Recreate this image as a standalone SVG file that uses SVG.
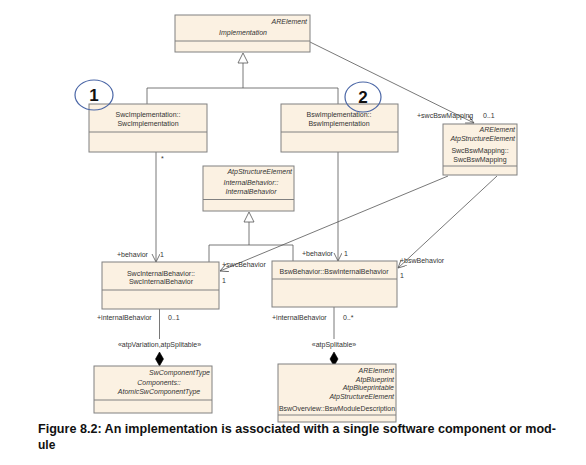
<svg xmlns="http://www.w3.org/2000/svg" width="586" height="465" viewBox="0 0 586 465">
<style>
.box{fill:#FBF1E2;stroke:#808080;stroke-width:1}
.dv{stroke:#808080;stroke-width:1}
.t{font-family:"Liberation Sans",Arial,sans-serif;font-size:7px;fill:#333}
.i{font-style:italic}
.c{text-anchor:middle}
.e{text-anchor:end}
.ln{stroke:#555;stroke-width:0.8;fill:none}
.tri{fill:#fff;stroke:#555;stroke-width:0.8}
.dia{fill:#000;stroke:#000;stroke-width:0.6}
.circ{fill:none;stroke:#4A66A6;stroke-width:1.2}
.num{font-family:"Liberation Sans",Arial,sans-serif;font-size:17px;font-weight:bold;fill:#111;text-anchor:middle}
.cap{font-family:"Liberation Sans",Arial,sans-serif;font-size:12px;font-weight:bold;fill:#111}
</style>
<defs>
<marker id="open" markerWidth="10" markerHeight="10" refX="8" refY="4" orient="auto" markerUnits="userSpaceOnUse">
<path d="M0,0 L8,4 L0,8" fill="none" stroke="#555" stroke-width="0.8"/>
</marker>
</defs>
<rect width="586" height="465" fill="#fff"/>

<g id="connectors">
<!-- generalization to Implementation -->
<polyline class="ln" points="147,104 147,88 338,88 338,104"/>
<line class="ln" x1="243" y1="88" x2="243" y2="63"/>
<polygon class="tri" points="243,53 238,63 248,63"/>
<!-- generalization to InternalBehavior -->
<polyline class="ln" points="209,262 209,245 293,245 293,261"/>
<line class="ln" x1="249" y1="245" x2="249" y2="222"/>
<polygon class="tri" points="249,212 244,222 254,222"/>
<!-- swcBswMapping -->
<line class="ln" x1="310" y1="42" x2="474" y2="123" marker-end="url(#open)"/>
<!-- behavior swc -->
<line class="ln" x1="156" y1="152" x2="156" y2="262" marker-end="url(#open)"/>
<!-- behavior bsw -->
<line class="ln" x1="338" y1="152" x2="338" y2="261" marker-end="url(#open)"/>
<!-- swcBehavior -->
<line class="ln" x1="448" y1="176" x2="220" y2="271" marker-end="url(#open)"/>
<!-- bswBehavior -->
<line class="ln" x1="497" y1="176" x2="398" y2="268" marker-end="url(#open)"/>
<!-- internalBehavior swc -->
<line class="ln" x1="159.5" y1="309" x2="159.5" y2="339"/>
<polygon class="dia" points="159.5,352 163.5,359 159.5,366 155.5,359"/>
<!-- internalBehavior bsw -->
<line class="ln" x1="334" y1="307" x2="334" y2="339"/>
<polygon class="dia" points="334,352 338,359 334,366 330,359"/>
<!-- labels -->
<text class="t" x="417" y="118">+swcBswMapping</text>
<text class="t" x="483" y="118">0..1</text>
<text class="t" x="161" y="161">*</text>
<text class="t" x="117" y="256.5">+behavior</text>
<text class="t" x="160" y="256.5">1</text>
<text class="t" x="222" y="267">+swcBehavior</text>
<text class="t" x="222" y="283">1</text>
<text class="t" x="302" y="255.5">+behavior</text>
<text class="t" x="344" y="255.5">1</text>
<text class="t" x="400" y="263">+bswBehavior</text>
<text class="t" x="400" y="277.5">1</text>
<text class="t" x="97" y="319.5">+internalBehavior</text>
<text class="t" x="168" y="319.5">0..1</text>
<text class="t" x="272" y="319.5">+internalBehavior</text>
<text class="t" x="343" y="319.5">0..*</text>
<text class="t c" x="159.5" y="347">«atpVariation,atpSplitable»</text>
<text class="t c" x="334" y="347">«atpSplitable»</text>
</g>

<g id="implementation">
<rect class="box" x="175" y="15" width="135" height="37"/>
<line class="dv" x1="175" y1="41" x2="310" y2="41"/>
<text class="t i e" x="307" y="24">ARElement</text>
<text class="t i c" x="243" y="35">Implementation</text>
</g>

<g id="swcImplementation">
<rect class="box" x="89" y="104" width="118" height="48"/>
<line class="dv" x1="89" y1="132" x2="207" y2="132"/>
<text class="t c" x="148" y="116.5">SwcImplementation::</text>
<text class="t c" x="148" y="125.5">SwcImplementation</text>
</g>

<g id="bswImplementation">
<rect class="box" x="281" y="104" width="117" height="48"/>
<line class="dv" x1="281" y1="132" x2="398" y2="132"/>
<text class="t c" x="339" y="116.5">BswImplementation::</text>
<text class="t c" x="339" y="125.5">BswImplementation</text>
</g>

<g id="marker1">
<ellipse class="circ" cx="94" cy="95" rx="19" ry="15"/>
<text class="num" x="94" y="101">1</text>
</g>
<g id="marker2">
<ellipse class="circ" cx="363" cy="97" rx="18" ry="15"/>
<text class="num" x="363" y="103">2</text>
</g>

<g id="swcBswMapping">
<rect class="box" x="443" y="124" width="74" height="51"/>
<line class="dv" x1="443" y1="166" x2="517" y2="166"/>
<text class="t i e" x="515" y="131.5">ARElement</text>
<text class="t i e" x="515" y="140.5">AtpStructureElement</text>
<text class="t c" x="480" y="152.5">SwcBswMapping::</text>
<text class="t c" x="480" y="161.5">SwcBswMapping</text>
</g>

<g id="internalBehavior">
<rect class="box" x="203" y="166" width="91" height="45"/>
<line class="dv" x1="203" y1="199.5" x2="294" y2="199.5"/>
<text class="t i e" x="292" y="174">AtpStructureElement</text>
<text class="t i c" x="251" y="184.5">InternalBehavior::</text>
<text class="t i c" x="251" y="193.5">InternalBehavior</text>
</g>

<g id="swcInternalBehavior">
<rect class="box" x="102" y="262" width="117" height="47"/>
<line class="dv" x1="102" y1="290" x2="219" y2="290"/>
<text class="t c" x="161" y="275.5">SwcInternalBehavior::</text>
<text class="t c" x="161" y="284">SwcInternalBehavior</text>
</g>

<g id="bswInternalBehavior">
<rect class="box" x="272" y="261" width="125" height="46"/>
<line class="dv" x1="272" y1="279" x2="397" y2="279"/>
<text class="t c" x="334" y="274">BswBehavior::BswInternalBehavior</text>
</g>

<g id="atomicSwComponentType">
<rect class="box" x="94" y="366" width="118" height="47"/>
<line class="dv" x1="94" y1="400" x2="212" y2="400"/>
<text class="t i e" x="210" y="375">SwComponentType</text>
<text class="t i c" x="159" y="385">Components::</text>
<text class="t i c" x="159" y="394">AtomicSwComponentType</text>
</g>

<g id="bswModuleDescription">
<rect class="box" x="278" y="364" width="118" height="58"/>
<line class="dv" x1="278" y1="415" x2="396" y2="415"/>
<text class="t i e" x="394" y="372.5">ARElement</text>
<text class="t i e" x="394" y="381.5">AtpBlueprint</text>
<text class="t i e" x="394" y="390">AtpBlueprintable</text>
<text class="t i e" x="394" y="399">AtpStructureElement</text>
<text class="t" x="279" y="410.5" textLength="116" lengthAdjust="spacingAndGlyphs">BswOverview::BswModuleDescription</text>
</g>

<g id="caption">
<text class="cap" x="38" y="433" textLength="518" lengthAdjust="spacingAndGlyphs">Figure 8.2: An implementation is associated with a single software component or mod-</text>
<text class="cap" x="38" y="449">ule</text>
</g>
</svg>
